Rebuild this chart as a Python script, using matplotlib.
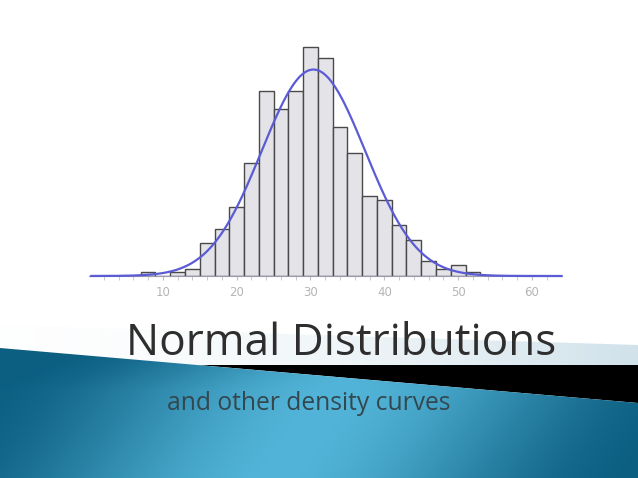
import numpy as np
import matplotlib
matplotlib.use("Agg")
import matplotlib.pyplot as plt
from matplotlib.patches import Polygon
from matplotlib.colors import to_rgb

# histogram data (bin left edges, width 2)
bin_left = [7, 9, 11, 13, 15, 17, 19, 21, 23, 25, 27, 29, 31,
            33, 35, 37, 39, 41, 43, 45, 47, 49, 51]
counts = [1, 0, 1, 2, 9, 13, 19, 31, 51, 46, 51, 63, 60,
          41, 34, 22, 21, 14, 10, 4, 2, 3, 1]
bin_width = 2
# fitted normal curve
mu, sd = 30.4, 7.0
x_ticks = [10, 20, 30, 40, 50, 60]

title = "Normal Distributions"
subtitle = "and other density curves"

W, H = 638, 478
fig = plt.figure(figsize=(W / 100, H / 100), dpi=100)

# background axes in pixel coordinates for the slide decoration
bg = fig.add_axes([0, 0, 1, 1])
bg.set_xlim(0, W)
bg.set_ylim(H, 0)
bg.axis("off")

# light blue band
yy, xx = np.mgrid[0:H, 0:W]
light = np.zeros((H, W, 4))
light[..., :3] = to_rgb("#cfe1ea")
light[..., 3] = np.clip(xx / W, 0, 1) ** 1.8 * 0.95 + 0.03
band = Polygon([(0, 325), (W, 345), (W, 365), (198, 365), (0, 348)],
               closed=True, facecolor="none", edgecolor="none")
bg.add_patch(band)
im = bg.imshow(light, extent=[0, W, H, 0], zorder=1)
im.set_clip_path(band)

# black wedge
bg.add_patch(Polygon([(198, 365), (W, 365), (W, 403)], closed=True,
                     facecolor="black", edgecolor="none", zorder=2))

# teal gradient shape, soft light area running diagonally through the middle
centre_x = 330 - (yy - 400) * 0.7
r = np.abs(xx - centre_x) / 360 + np.clip(390 - yy, 0, None) / 250
r = np.clip(r, 0, 1)
r = (r * r * (3 - 2 * r))[..., None]
c_in = np.array(to_rgb("#52b4d8"))
c_out = np.array(to_rgb("#0c5f81"))
teal = c_in * (1 - r) + c_out * r
teal_poly = Polygon([(0, 348), (W, 403), (W, H), (0, H)], closed=True,
                    facecolor="none", edgecolor="none")
bg.add_patch(teal_poly)
im2 = bg.imshow(teal, extent=[0, W, H, 0], zorder=3)
im2.set_clip_path(teal_poly)

fig.text(126 / W, 1 - 355 / H, title, fontsize=31.8, color="#2e2e2e",
         family="Open Sans", ha="left", va="baseline", zorder=10)
fig.text(167 / W, 1 - 410 / H, subtitle, fontsize=17.7, color="#34474f",
         family="Open Sans", ha="left", va="baseline", zorder=10)

# histogram
base_px = 276
px_per_count = 3.63
ymax = 70
ax = fig.add_axes([89 / W, 1 - base_px / H, 472.5 / W, ymax * px_per_count / H])
ax.patch.set_alpha(0)
ax.bar(bin_left, counts, width=bin_width, align="edge",
       facecolor="#e3e3e8", edgecolor="#4a4a4a", linewidth=1.0, zorder=2)

x = np.linspace(0.3, 64, 500)
n = sum(counts)
y = n * bin_width * np.exp(-0.5 * ((x - mu) / sd) ** 2) / (sd * np.sqrt(2 * np.pi))
ax.plot(x, y, color="#5b5bd6", linewidth=1.6, zorder=3, clip_on=False)

ax.set_xlim(0, 64)
ax.set_ylim(0, ymax)
for s in ["top", "right", "left"]:
    ax.spines[s].set_visible(False)
ax.spines["bottom"].set_color("#9a9ab0")
ax.set_yticks([])
ax.set_xticks(x_ticks)
ax.set_xticks(np.arange(2, 64, 2), minor=True)
ax.tick_params(axis="x", which="both", length=3, color="#c0c0c0",
               labelsize=8.5, labelcolor="#b5b5b5", pad=4)

fig.savefig("out.png", dpi=100)
